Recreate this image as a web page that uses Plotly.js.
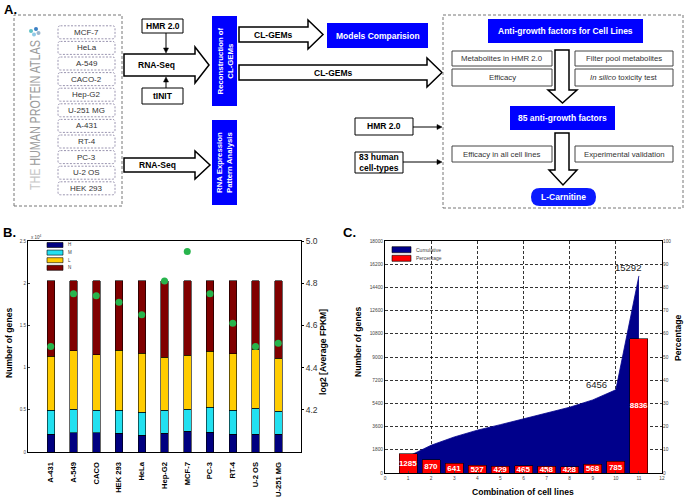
<!DOCTYPE html>
<html><head><meta charset="utf-8">
<script src="https://cdn.plot.ly/plotly-3.0.1.min.js"></script>
<style>html,body{margin:0;padding:0;background:#fff}</style>
</head><body><div id="chart" style="width:685px;height:499px"></div>
<script>
// ---------- Panel B data ----------
const cellLinesB = ['A-431','A-549','CACO','HEK 293','HeLa','Hep-G2','MCF-7','PC-3','RT-4','U-2 OS','U-251 MG'];
const genesH = [2130,2290,2290,2210,1970,2210,2450,2370,2130,2130,2130];
const genesM = [2840,2760,2680,2760,2760,2720,2600,2920,2840,3040,2680];
const genesL = [6390,6940,6550,7100,6990,6310,6390,6620,6670,7020,6310];
const genesN = [8940,8310,8780,8230,8580,9060,8860,8390,8660,8110,9180];
const log2FPKM = [4.50,4.75,4.74,4.71,4.65,4.81,4.95,4.75,4.61,4.50,4.515];
const bTickVals = [0,5000,10000,15000,20000,25000];
const bTickText = ['0','0.5','1','1.5','2','2.5'];
const rTickVals = [4.2,4.4,4.6,4.8,5.0];
const rTickText = ['4.2','4.4','4.6','4.8','5.0'];
const legendB = ['H','M','L','N'];

// ---------- Panel C data ----------
const combos = [1,2,3,4,5,6,7,8,9,10,11];
const uniqueGenes = [1285,870,641,527,429,465,458,428,568,785,8836];
const cumulative = [1285,2155,2796,3323,3752,4217,4675,5103,5671,6456,15292];
const percentage = [8.40,5.69,4.19,3.45,2.81,3.04,3.00,2.80,3.71,5.13,57.78];
const cTickVals = [0,1800,3600,5400,7200,9000,10800,12600,14400,16200,18000];
const cTickText = ['0','1800','3600','5400','7200','9000','10800','12600','14400','16200','18000'];
const xTickVals = [0,1,2,3,4,5,6,7,8,9,10,11,12];
const pTickVals = [0,10,20,30,40,50,60,70,80,90,100];
const legendC = ['Cumulative','Percentage'];

// ---------- Panel A texts ----------
const atlasCellLines = ['MCF-7','HeLa','A-549','CACO-2','Hep-G2','U-251 MG','A-431','RT-4','PC-3','U-2 OS','HEK 293'];

const W = 685, H = 499;
const F = 'Liberation Sans, Arial, Helvetica, sans-serif';
const X = p => p / W, Y = p => 1 - p / H;
const BLUE = '#0000ff';

function ann(px, py, text, size, opts) {
  const o = Object.assign({xref:'paper', yref:'paper', x:X(px), y:Y(py), text:text, showarrow:false,
    xanchor:'center', yanchor:'middle', font:{family:F, size:size, color:'#000'}}, opts || {});
  return o;
}
function rectS(x0,y0,x1,y1,line,fill,dash,w) {
  return {type:'rect', xref:'paper', yref:'paper', x0:X(x0), x1:X(x1), y0:Y(y1), y1:Y(y0),
    line:{color:line, width:(w===undefined?1:w), dash:dash||'solid'}, fillcolor:fill||'rgba(0,0,0,0)', layer:'above'};
}
function pathS(d, line, fill, w, dash) {
  return {type:'path', xref:'paper', yref:'paper', path:d, line:{color:line, width:(w===undefined?1:w), dash:dash||'solid'},
    fillcolor:fill||'rgba(0,0,0,0)', layer:'above'};
}
function P(x,y){ return X(x)+','+Y(y); }
function polyS(pts, line, fill, w) {
  return pathS('M' + pts.map(p=>P(p[0],p[1])).join(' L') + ' Z', line, fill, w);
}
function roundS(x0,y0,x1,y1,r,line,fill,dash,w) {
  const d = 'M'+P(x0+r,y0)+' L'+P(x1-r,y0)+' Q'+P(x1,y0)+' '+P(x1,y0+r)+' L'+P(x1,y1-r)+' Q'+P(x1,y1)+' '+P(x1-r,y1)+
    ' L'+P(x0+r,y1)+' Q'+P(x0,y1)+' '+P(x0,y1-r)+' L'+P(x0,y0+r)+' Q'+P(x0,y0)+' '+P(x0+r,y0)+' Z';
  return pathS(d, line, fill, w, dash);
}
function rightArrow(x0,xb,tip,yb0,yb1,yh0,yh1) {
  const ym=(yh0+yh1)/2;
  return polyS([[x0,yb0],[xb,yb0],[xb,yh0],[tip,ym],[xb,yh1],[xb,yb1],[x0,yb1]], '#000', '#fff', 1.5);
}
function downArrow(xb0,xb1,y0,yb,tip,xh0,xh1) {
  const xm=(xh0+xh1)/2;
  return polyS([[xb0,y0],[xb1,y0],[xb1,yb],[xh1,yb],[xm,tip],[xh0,yb],[xb0,yb]], '#000', '#fff', 1.5);
}
function lineS(x0,y0,x1,y1,c,w){ return {type:'line', xref:'paper', yref:'paper', x0:X(x0), y0:Y(y0), x1:X(x1), y1:Y(y1), line:{color:c||'#000', width:w||1}, layer:'above'}; }

const shapes = [];
const annotations = [];

// ===== Panel A =====
annotations.push(ann(10, 9, '<b>A.</b>', 13));
shapes.push(rectS(14,15,122,206,'#777',null,'3px,2px',1));
[[36,29,'#3b7fc4'],[31,31,'#5fc2c6'],[34,34.5,'#8fc9e6'],[38.5,33,'#9bb7cf']].forEach(d=>{
  shapes.push({type:'circle', xref:'paper', yref:'paper', x0:X(d[0]-2), x1:X(d[0]+2), y0:Y(d[1]+2), y1:Y(d[1]-2), line:{width:0}, fillcolor:d[2], layer:'above'});
});
annotations.push(ann(35, 115, '<span style="color:#c8c8c8">THE </span><span style="color:#9c9c9c">HUMAN PROTEIN ATLAS</span>', 14,
  {textangle:-90, font:{family:'Liberation Sans, sans-serif', size:14, color:'#aaa'}, name:'logo'}));
atlasCellLines.forEach((c,i)=>{
  const cy = 32.3 + 15.6*i;
  shapes.push(roundS(58, cy-6.5, 115, cy+6.5, 2.5, '#9a94b0', null, '2px,1.5px', 1));
  annotations.push(ann(86.5, cy, c, 8, {font:{family:F, size:8, color:'#333'}}));
});
shapes.push(rectS(142,19,183,33,'#000','#fff'));
annotations.push(ann(162.5, 26, '<b>HMR 2.0</b>', 8.5));
shapes.push(rectS(142,88,183,104,'#000','#fff'));
annotations.push(ann(162.5, 96, '<b>tINIT</b>', 8.5));
shapes.push(lineS(166,33,166,49));
shapes.push(polyS([[163.5,48],[168.5,48],[166,53]],'#000','#000',0.5));
shapes.push(lineS(166,88,166,81));
shapes.push(polyS([[163.5,82],[168.5,82],[166,77]],'#000','#000',0.5));
shapes.push(rightArrow(124,195,209,54,76,47,83));
annotations.push(ann(156, 65, '<b>RNA-Seq</b>', 8.5));
shapes.push(rightArrow(124,195,210,158,172,151,179));
annotations.push(ann(157, 165, '<b>RNA-Seq</b>', 8.5));
shapes.push(rectS(212,16,237,106,BLUE,BLUE,null,0));
annotations.push(ann(224.5, 61, '<b>Reconstruction of<br>CL-GEMs</b>', 7.8, {textangle:-90, font:{family:F,size:7.8,color:'#fff'}}));
shapes.push(rectS(212,120,237,205,BLUE,BLUE,null,0));
annotations.push(ann(224.5, 162.5, '<b>RNA Expression<br>Pattern Analysis</b>', 7.8, {textangle:-90, font:{family:F,size:7.8,color:'#fff'}}));
shapes.push(rightArrow(239,308,323,27,42,20,49));
annotations.push(ann(273, 35, '<b>CL-GEMs</b>', 8.5));
shapes.push(rightArrow(239,427,442,65,80,58,87));
annotations.push(ann(333, 73, '<b>CL-GEMs</b>', 8.5));
shapes.push(rectS(327,23,428,48,BLUE,BLUE,null,0));
annotations.push(ann(377.5, 35.5, '<b>Models Comparision</b>', 8.5, {font:{family:F,size:8.5,color:'#fff'}}));
shapes.push(rectS(355,118,413,135,'#000','#fff'));
annotations.push(ann(384, 126.5, '<b>HMR 2.0</b>', 8.5));
shapes.push(lineS(413,127,438,127));
shapes.push(polyS([[437,124.5],[437,129.5],[442,127]],'#000','#000',0.5));
shapes.push(rectS(355,152,403,173,'#000','#fff'));
annotations.push(ann(379, 162.5, '<b>83 human<br>cell-types</b>', 8.5));
shapes.push(lineS(403,162,438,162));
shapes.push(polyS([[437,159.5],[437,164.5],[442,162]],'#000','#000',0.5));
shapes.push(rectS(443,15,683,208,'#777',null,'3px,2px',1));
shapes.push(rectS(488,19,643,43,BLUE,BLUE,null,0));
annotations.push(ann(565.5, 31, '<b>Anti-growth factors for Cell Lines</b>', 8.5, {font:{family:F,size:8.5,color:'#fff'}}));
shapes.push(downArrow(555,569,50,90,103,548,577));
shapes.push(rectS(452,51,552,66,'#444','#fff'));
annotations.push(ann(502, 58.5, 'Metabolites in HMR 2.0', 7.8, {font:{family:F,size:7.8,color:'#333'}}));
shapes.push(rectS(452,69,552,86,'#444','#fff'));
annotations.push(ann(502, 77.5, 'Efficacy', 7.8, {font:{family:F,size:7.8,color:'#333'}}));
shapes.push(rectS(575,51,673,66,'#444','#fff'));
annotations.push(ann(624, 58.5, 'Filter pool metabolites', 7.8, {font:{family:F,size:7.8,color:'#333'}}));
shapes.push(rectS(575,69,673,86,'#444','#fff'));
annotations.push(ann(624, 77.5, '<i>In silico</i> toxicity test', 7.8, {font:{family:F,size:7.8,color:'#333'}}));
shapes.push(rectS(510,106,615,130,BLUE,BLUE,null,0));
annotations.push(ann(562.5, 118, '<b>85 anti-growth factors</b>', 8.5, {font:{family:F,size:8.5,color:'#fff'}}));
shapes.push(downArrow(555,569,133,170,185,549,577));
shapes.push(rectS(452,146,552,162,'#444','#fff'));
annotations.push(ann(502, 154, 'Efficacy in all cell lines', 7.8, {font:{family:F,size:7.8,color:'#333'}}));
shapes.push(rectS(575,146,673,162,'#444','#fff'));
annotations.push(ann(624, 154, 'Experimental validation', 7.8, {font:{family:F,size:7.8,color:'#333'}}));
shapes.push(roundS(531,188,596,206,9,'#0a1aff','#0a1aff',null,0));
annotations.push(ann(563.5, 197, '<b>L-Carnitine</b>', 8.5, {font:{family:F,size:8.5,color:'#fff'}}));

// ===== Panel B =====
annotations.push(ann(9, 232, '<b>B.</b>', 13));
annotations.push(ann(9, 343, '<b>Number of genes</b>', 8.6, {textangle:-90}));
annotations.push(ann(323, 352, '<b>log2 [Average FPKM]</b>', 8.6, {textangle:-90}));
annotations.push(ann(29, 236.5, 'x 10<sup>4</sup>', 4.5, {xanchor:'left', font:{family:F,size:4.5,color:'#444'}}));
const colB = ['#000080','#22e0f0','#ffcc00','#800000'];
legendB.forEach((t,i)=>{
  const y0 = 242.5 + 7.6*i;
  shapes.push(rectS(47,y0,63,y0+5,'#000',colB[i],null,0.6));
  annotations.push(ann(65.5, y0+2.5, t, 4.5, {xanchor:'left', font:{family:F,size:4.5,color:'#333'}}));
});

// ===== Panel C =====
annotations.push(ann(349, 232, '<b>C.</b>', 13));
annotations.push(ann(358, 342, '<b>Number of genes</b>', 8.6, {textangle:-90}));
annotations.push(ann(678, 338, '<b>Percentage</b>', 8.6, {textangle:-90}));
annotations.push(ann(523, 492, '<b>Combination of cell lines</b>', 8.6));
const colC = ['#00008b','#ff0000'];
legendC.forEach((t,i)=>{
  const y0 = 246.7 + 8.6*i;
  shapes.push(rectS(392,y0,411,y0+6,'#000',colC[i],null,0.6));
  annotations.push(ann(413.5, y0+3, t, 5, {xanchor:'left', font:{family:F,size:5,color:'#444'}}));
});
annotations.push({xref:'x2', yref:'y3', x:combos[10], y:cumulative[10], text:String(cumulative[10]), showarrow:false,
  xanchor:'right', yanchor:'bottom', xshift:4, yshift:1, font:{family:F, size:9.5, color:'#222'}});
annotations.push({xref:'x2', yref:'y3', x:combos[9], y:cumulative[9], text:String(cumulative[9]), showarrow:false,
  xanchor:'right', yanchor:'bottom', xshift:-7, yshift:-2, font:{family:F, size:9.5, color:'#222'}});

// ===== traces =====
const traces = [];
[genesH,genesM,genesL,genesN].forEach((arr,i)=>{
  traces.push({type:'bar', x:cellLinesB, y:arr, xaxis:'x', yaxis:'y', width:0.33,
    marker:{color:colB[i], line:{color:'#000', width:0.6}}, showlegend:false, hoverinfo:'skip'});
});
traces.push({type:'scatter', mode:'markers', x:cellLinesB, y:log2FPKM, xaxis:'x', yaxis:'y2',
  marker:{color:'#27b44c', size:7}, showlegend:false, hoverinfo:'skip'});
traces.push({type:'scatter', mode:'lines', x:combos, y:cumulative, xaxis:'x2', yaxis:'y3', fill:'tozeroy',
  fillcolor:'#00008b', line:{color:'#00008b', width:0.8}, showlegend:false, hoverinfo:'skip'});
traces.push({type:'bar', x:combos, y:percentage, xaxis:'x2', yaxis:'y4', width:0.78,
  marker:{color:'#ff0000', line:{color:'#000', width:0.6}}, text:uniqueGenes.map(String),
  texttemplate:'<b>%{text}</b>', textposition:'inside', insidetextanchor:'middle', textangle:0, constraintext:'none',
  textfont:{family:F, size:8, color:'#fff'}, showlegend:false, hoverinfo:'skip'});
traces.push({type:'scatter', mode:'markers', x:[], y:[], xaxis:'x3', yaxis:'y3', showlegend:false, hoverinfo:'skip'});

const domBx = [X(28), X(301)], domBy = [Y(452), Y(241)];
const domCx = [X(385), X(662)], domCy = [Y(473), Y(241)];
const gridDash = '3px,2px';

const layout = {
  width:W, height:H, margin:{l:0,r:0,t:0,b:0}, paper_bgcolor:'#fff', plot_bgcolor:'rgba(0,0,0,0)',
  barmode:'stack', showlegend:false, font:{family:F},
  xaxis:{domain:domBx, anchor:'y', type:'category', range:[-1,11], showline:true, mirror:true, linecolor:'#000', linewidth:1,
    ticks:'', tickangle:-90, tickvals:cellLinesB, ticktext:cellLinesB.map(s=>'<b>'+s+'</b>'),
    tickfont:{family:F, size:7.6, color:'#000'}, ticklabelstandoff:6, showgrid:false, zeroline:false, automargin:false},
  yaxis:{domain:domBy, anchor:'x', range:[0,25000], tickvals:bTickVals, ticktext:bTickText, tickfont:{family:F,size:4.5,color:'#444'},
    ticks:'inside', ticklen:2, showline:true, mirror:true, linecolor:'#000', linewidth:1, showgrid:false, zeroline:false, automargin:false},
  yaxis2:{overlaying:'y', side:'right', anchor:'x', range:[4,5], tickvals:rTickVals, ticktext:rTickText,
    tickfont:{family:F,size:8.5,color:'#333'}, ticks:'outside', ticklen:2, tickcolor:'#000', showline:false, showgrid:false, zeroline:false, automargin:false},
  xaxis2:{domain:domCx, anchor:'y3', range:[0,12], tickvals:xTickVals, tickfont:{family:F,size:4.8,color:'#444'},
    ticks:'inside', ticklen:2, showline:true, mirror:true, linecolor:'#000', linewidth:1, showgrid:false, zeroline:false, automargin:false},
  xaxis3:{overlaying:'x2', anchor:'y3', range:[0,12], dtick:2, showticklabels:false, ticks:'', showline:false,
    showgrid:true, gridcolor:'#000', gridwidth:0.8, griddash:gridDash, zeroline:false, automargin:false},
  yaxis3:{domain:domCy, anchor:'x2', range:[0,18000], tickvals:cTickVals, ticktext:cTickText, tickfont:{family:F,size:4.8,color:'#444'},
    ticks:'inside', ticklen:2, showline:true, mirror:true, linecolor:'#000', linewidth:1,
    showgrid:true, gridcolor:'#000', gridwidth:0.8, griddash:gridDash, zeroline:false, automargin:false},
  yaxis4:{overlaying:'y3', side:'right', anchor:'x2', range:[0,100], tickvals:pTickVals, tickfont:{family:F,size:4.8,color:'#444'},
    ticks:'inside', ticklen:2, showline:false, showgrid:false, zeroline:false, automargin:false},
  shapes:shapes, annotations:annotations
};

Plotly.newPlot('chart', traces, layout, {displayModeBar:false, staticPlot:true}).then(()=>{
  const idx = annotations.findIndex(a=>a.name==='logo');
  const t = document.querySelector('.annotation[data-index="'+idx+'"] text');
  if (t) { t.setAttribute('textLength','150'); t.setAttribute('lengthAdjust','spacingAndGlyphs'); }
});
</script></body></html>
